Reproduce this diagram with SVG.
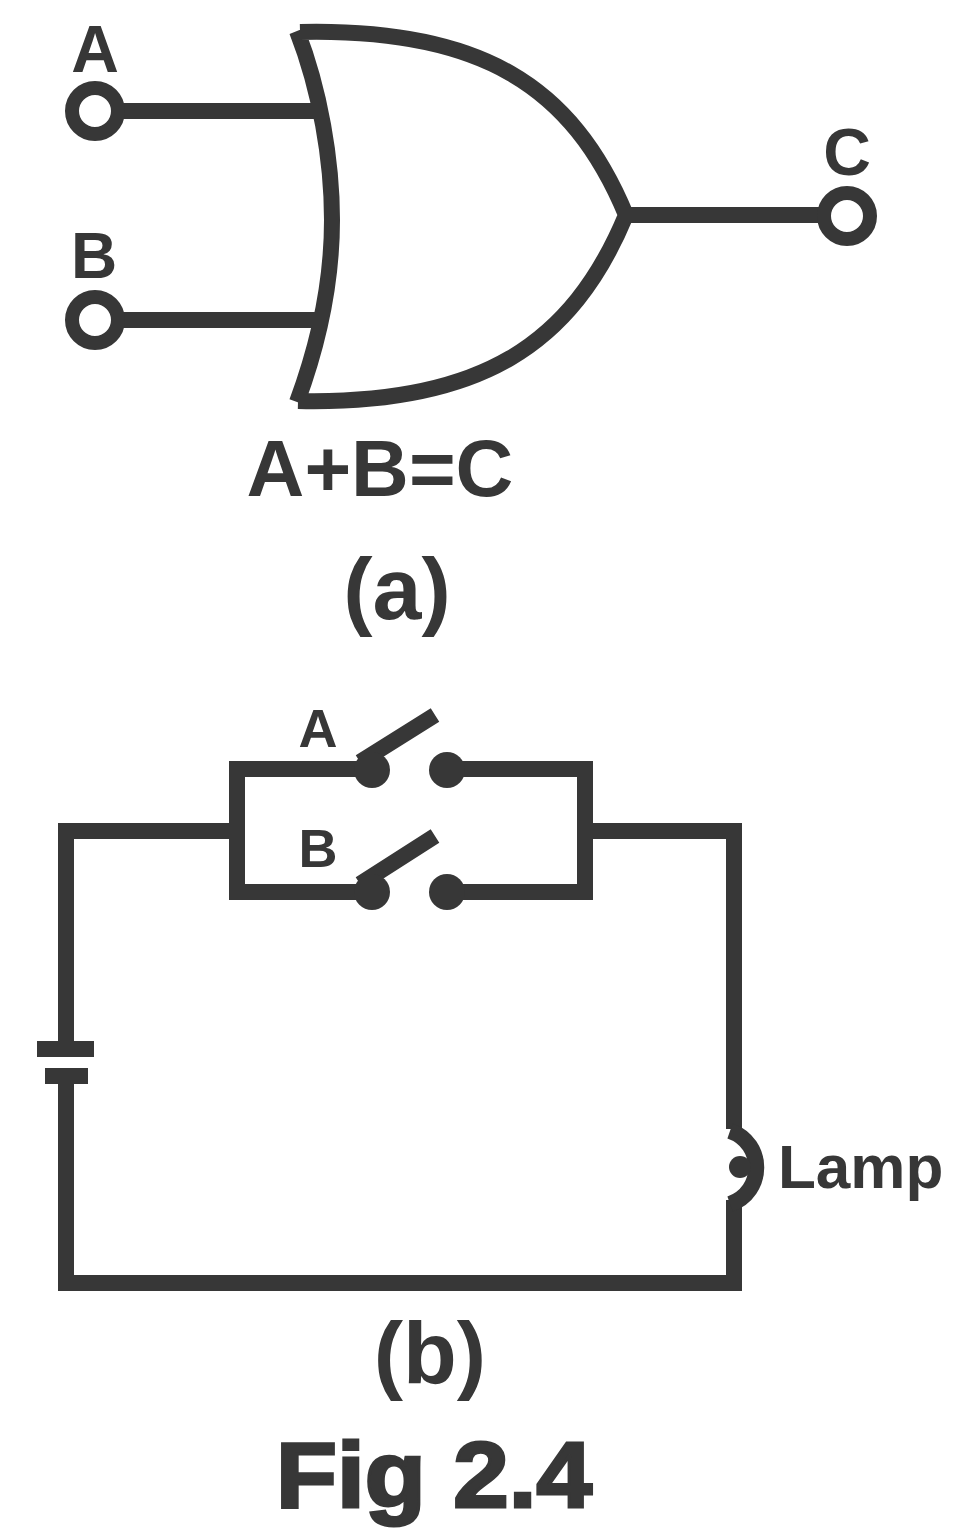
<svg xmlns="http://www.w3.org/2000/svg" width="968" height="1536" viewBox="0 0 968 1536">
<style>
.w{fill:none;stroke:#373737;stroke-width:16;stroke-linejoin:miter}
.t{stroke:#373737;stroke-width:16;fill:none}
.d{fill:#373737}
.r{fill:#fff;stroke:#373737;stroke-width:14}
text{font-family:"Liberation Sans",Arial,sans-serif;font-weight:700;fill:#373737}
</style>
<rect width="968" height="1536" fill="#fff"/>
<g id="or-gate"><path d="M297 31C320 90 332 160 332 220C332 280 320 340 297 402M300 32C480 28 572 85 626 215C572 345 480 405 298 401" fill="none" stroke="#373737" stroke-width="16"/></g>
<g id="connectors">
<path class="t" d="M120 111H316M120 320H316M628 215H820"/>
<path class="w" d="M66 1048V831H237M360 769H237V892H360M460 769H585V892H460M593 831H734V1129M734 1200V1283H66V1078"/>
<path class="t" d="M360 762L435 715M360 884L435 836"/>
</g>
<g id="terminal-a"><circle class="r" cx="95" cy="111" r="23"/><text x="95" y="72" font-size="66" text-anchor="middle">A</text></g>
<g id="terminal-b"><circle class="r" cx="95" cy="320" r="23"/><text x="94" y="278" font-size="64" text-anchor="middle">B</text></g>
<g id="terminal-c"><circle class="r" cx="847" cy="216" r="23"/><text x="847" y="175" font-size="66" text-anchor="middle">C</text></g>
<g id="expression"><text x="380" y="496" font-size="80" text-anchor="middle">A+B=C</text></g>
<g id="label-a"><text x="397" y="619" font-size="88" text-anchor="middle">(a)</text></g>
<g id="switch-a"><circle class="d" cx="372" cy="770" r="18"/><circle class="d" cx="447" cy="770" r="18"/><text x="318" y="747" font-size="54" text-anchor="middle">A</text></g>
<g id="switch-b"><circle class="d" cx="372" cy="892" r="18"/><circle class="d" cx="447" cy="892" r="18"/><text x="318" y="867" font-size="54" text-anchor="middle">B</text></g>
<g id="battery"><rect class="d" x="37" y="1041" width="57" height="16"/><rect class="d" x="45" y="1068" width="43" height="16"/></g>
<g id="lamp"><path class="w" d="M730 1131C765 1143 765 1192 730 1204"/><circle class="d" cx="740" cy="1167" r="11"/><text x="778" y="1188" font-size="62">Lamp</text></g>
<g id="label-b"><text x="430" y="1383" font-size="88" text-anchor="middle">(b)</text></g>
<g id="title"><text x="434" y="1507" font-size="92" style="stroke:#373737;stroke-width:3" text-anchor="middle" textLength="316" lengthAdjust="spacingAndGlyphs">Fig 2.4</text></g>
</svg>
